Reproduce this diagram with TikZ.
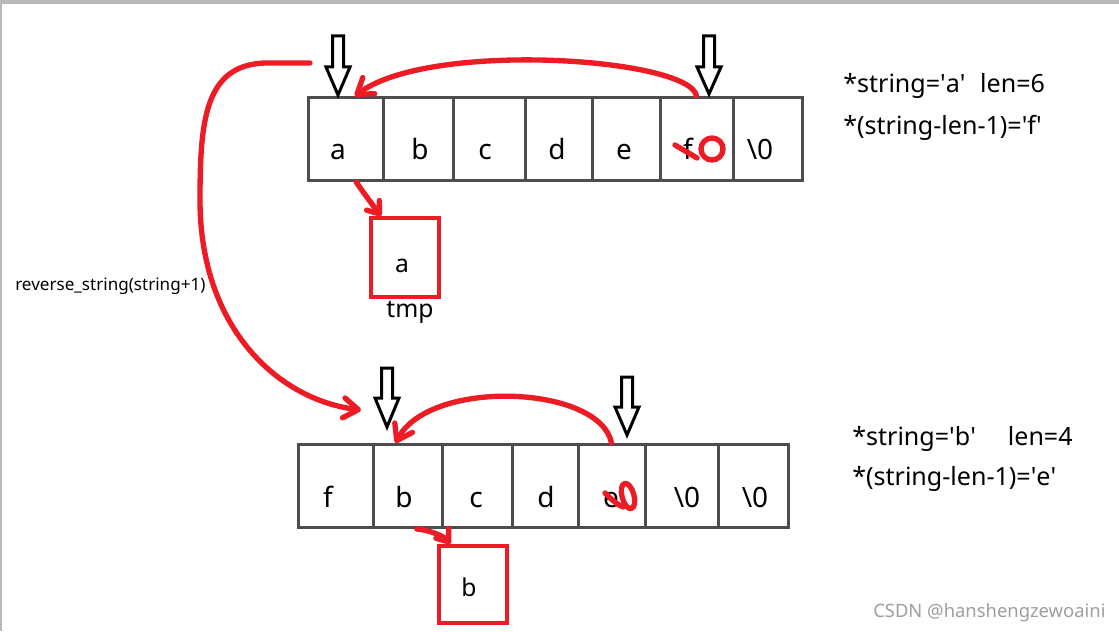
\documentclass[tikz,border=0pt]{standalone}
\usepackage{fontspec}
\setmainfont{Noto Sans}
\usepackage{tikz}
\usetikzlibrary{arrows.meta}
\definecolor{penred}{HTML}{ED1C24}
\definecolor{cellgray}{HTML}{4D4D4D}
\definecolor{framegray}{HTML}{B9B9B9}
\newcommand{\q}{\textquotesingle}

\begin{document}
\begin{tikzpicture}[
	x=0.75pt, y=-0.75pt,
	cellbox/.style 	= {draw=cellgray, line width=2.25pt, inner sep=0pt, minimum height=62.25pt},
	letter/.style 	= {anchor=base, inner sep=0pt, font=\fontsize{21}{25}\selectfont},
	redbox/.style 	= {draw=penred, line width=3pt, inner sep=0pt},
	boxtext/.style 	= {anchor=base, inner sep=0pt, font=\fontsize{18.5}{22}\selectfont},
	note/.style 	= {anchor=base west, inner sep=0pt, font=\fontsize{18.8}{22}\selectfont},
	redline/.style 	= {draw=penred, line width=4pt, line cap=round, line join=round},
	bigtip/.style 	= {-{Straight Barb[length=11pt,width=15pt,round]}},
	smalltip/.style = {-{Straight Barb[length=8pt,width=12pt,round]}},
	hollowarrow/.style = {draw=black, line width=2.25pt, fill=white}]
	
	\useasboundingbox (0,0) rectangle (1119,631);
	\fill[framegray] (0,0) rectangle (1119,4);
	\fill[framegray] (0,0) rectangle (2,631);
	
	% first call
	\foreach \xl/\xr/\tx/\c [count=\i] in {308/383/338/a, 383/453/420/b, 453/525/485/c, 525/592/557/d, 592/660/624/e, 660/733/688/f, 733/802/760/{\textbackslash 0}}{
		\node[cellbox, minimum width={(\xr-\xl)*0.75pt}] (top\i) at ({(\xl+\xr)/2},139) {};
		\node[letter] (toptext\i) at (\tx,160) {\c};
	}
	
	% second call
	\foreach \xl/\xr/\tx/\c [count=\i] in {298/373/328/f, 373/442/404/b, 442/512/476/c, 512/578/546/d, 578/645/611/e, 645/718/687/{\textbackslash 0}, 718/788/755/{\textbackslash 0}}{
		\node[cellbox, minimum width={(\xr-\xl)*0.75pt}] (bot\i) at ({(\xl+\xr)/2},486) {};
		\node[letter] (bottext\i) at (\tx,507) {\c};
	}
	
	\node[redbox, minimum width=51pt, minimum height=59.25pt] (tmpa) at (405,257.5) {};
	\node[boxtext] (tmpatext) at (402,272) {a};
	\node[boxtext] (tmplabel) at (410,317) {tmp};
	
	\node[redbox, minimum width=51pt, minimum height=57.75pt] (tmpb) at (473,584.5) {};
	\node[boxtext] (tmpbtext) at (469,596) {b};
	
	\node[note] (infoa) at (843,93) {*string=\q a\q\hspace*{11pt}len=6};
	\node[note] (infoaa) at (843,135) {*(string-len-1)=\q f\q};
	\node[note] (infob) at (852,445) {*string=\q b\q\hspace*{24pt}len=4};
	\node[note] (infobb) at (852,485) {*(string-len-1)=\q e\q};
	
	\node[note, font=\fontsize{12.8}{15}\selectfont] (callname) at (15,290) {reverse\_string(string+1)};
	\node[note, font=\fontsize{13.8}{16}\selectfont, text=black!38] (mark) at (873,617) {CSDN @hanshengzewoaini};
	
	% pointers
	\foreach \ax/\ay/\ah/\ab in {338/36/67/95, 709/36/67/94, 387/368/398/427, 627/377/407/435}{
		\draw[hollowarrow] (\ax-5.5,\ay) -- (\ax-5.5,\ah) -- (\ax-12,\ah) -- (\ax,\ab)
			-- (\ax+12,\ah) -- (\ax+5.5,\ah) -- (\ax+5.5,\ay) -- cycle;
	}
	
	% swaps
	\draw[redline, bigtip] (top6.north) .. controls (690,58) and (430,40) .. ([xshift=7pt]top1.north);
	\draw[redline, bigtip] (bot5.north) .. controls (600,385) and (430,378) .. ([xshift=-9pt]bot2.north);
	\draw[redline, smalltip] ([xshift=8pt]top1.south) .. controls (365,195) and (375,208) .. ([xshift=9pt]tmpa.north west);
	\draw[redline, smalltip] ([xshift=7pt]bot2.south) .. controls (430,530) and (445,537) .. ([xshift=10pt]tmpb.north west);
	
	% recursion
	\coordinate (callstart) at (310,63);
	\coordinate (callend) at (361,410);
	\draw[redline, bigtip] (callstart) -- (265,63) .. controls (205,65) and (200,120) .. (200,200)
		.. controls (200,330) and (280,400) .. (callend);
	
	% scribbles
	\draw[redline] (675,145) -- (697,158);
	\draw[redline] (712,149) ellipse [x radius=11, y radius=11];
	\draw[redline] (605,493) .. controls (612,500) and (618,505) .. (623,507);
	\draw[redline, rotate around={15:(628,496)}] (628,496) ellipse [x radius=6, y radius=13];
	
\end{tikzpicture}
\end{document}
